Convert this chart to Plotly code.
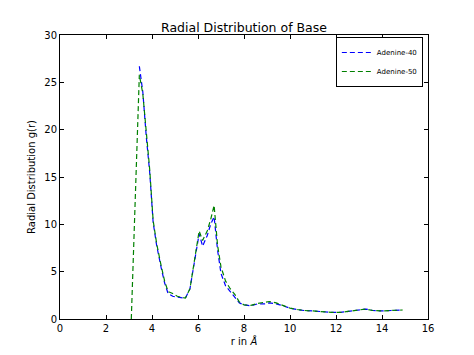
import plotly.graph_objects as go

# Adenine-40 (blue)
r40 = [3.45, 3.6, 3.75, 3.9, 4.05, 4.2, 4.4, 4.55, 4.7, 4.9, 5.1, 5.3, 5.45, 5.65, 5.85,
       6.05, 6.2, 6.4, 6.55, 6.7, 6.85, 7.0, 7.2, 7.4, 7.6, 7.8, 8.0, 8.3, 8.6, 8.9, 9.1,
       9.4, 9.7, 10.0, 10.3, 10.6, 11.0, 11.4, 11.8, 12.2, 12.6, 13.0, 13.3, 13.6, 14.0,
       14.4, 14.9]
g40 = [26.7, 24.0, 19.3, 15.5, 10.2, 7.8, 5.4, 3.8, 2.7, 2.4, 2.3, 2.2, 2.2, 3.2, 6.2,
       9.0, 7.7, 8.8, 10.0, 10.8, 7.3, 4.8, 3.5, 2.9, 2.3, 1.7, 1.5, 1.4, 1.6, 1.6, 1.7,
       1.6, 1.4, 1.15, 1.0, 0.9, 0.85, 0.75, 0.7, 0.7, 0.8, 0.95, 1.05, 0.9, 0.85,
       0.9, 0.95]

# Adenine-50 (green)
r50 = [3.1, 3.45, 3.6, 3.75, 3.9, 4.05, 4.2, 4.4, 4.55, 4.7, 4.9, 5.1, 5.3, 5.45, 5.65, 5.85,
       6.05, 6.2, 6.4, 6.55, 6.7, 6.85, 7.0, 7.2, 7.4, 7.6, 7.8, 8.0, 8.3, 8.6, 8.9, 9.1,
       9.4, 9.7, 10.0, 10.3, 10.6, 11.0, 11.4, 11.8, 12.2, 12.6, 13.0, 13.3, 13.6, 14.0,
       14.4, 14.9]
g50 = [0.0, 25.8, 23.8, 19.5, 15.8, 10.4, 8.0, 5.6, 4.0, 2.9, 2.7, 2.4, 2.3, 2.2, 3.2, 6.4,
       9.3, 8.3, 9.3, 10.5, 12.0, 7.8, 5.5, 4.0, 3.2, 2.6, 1.8, 1.5, 1.45, 1.65, 1.8, 1.85,
       1.7, 1.45, 1.15, 1.0, 0.9, 0.85, 0.75, 0.7, 0.7, 0.8, 0.95, 1.05, 0.9, 0.85,
       0.9, 0.95]

x_ticks = [0, 2, 4, 6, 8, 10, 12, 14, 16]
y_ticks = [0, 5, 10, 15, 20, 25, 30]

font = "DejaVu Sans, sans-serif"

fig = go.Figure()
fig.add_trace(go.Scatter(x=r40, y=g40, mode="lines", name="Adenine-40",
                         line=dict(color="#0000ff", width=1.2, dash="5px,3px")))
fig.add_trace(go.Scatter(x=r50, y=g50, mode="lines", name="Adenine-50",
                         line=dict(color="#008000", width=1.2, dash="5px,3px")))

axis_common = dict(showline=True, linecolor="black", linewidth=1, mirror="ticks",
                   ticks="inside", ticklen=4, tickcolor="black", showgrid=False,
                   zeroline=False, automargin=False,
                   tickfont=dict(family=font, size=10, color="black"))

fig.update_layout(
    width=474, height=355,
    margin=dict(l=60, r=46, t=35, b=36),
    paper_bgcolor="white", plot_bgcolor="white",
    title=dict(text="Radial Distribution of Base", x=0.5, xref="paper", xanchor="center",
               y=1 - 28 / 355, yref="container", yanchor="middle",
               font=dict(family=font, size=12.5, color="black")),
    xaxis=dict(range=[0, 16], tickvals=x_ticks, ticktext=[str(v) for v in x_ticks],
               title=dict(text="r in <i>Å</i>", standoff=4,
                          font=dict(family=font, size=10, color="black")),
               **axis_common),
    yaxis=dict(range=[0, 30], tickvals=y_ticks, ticktext=[str(v) for v in y_ticks],
               title=dict(text="Radial Distribution g(r)", standoff=6,
                          font=dict(family=font, size=10, color="black")),
               **axis_common),
    legend=dict(x=0.986, y=0.993, xanchor="right", yanchor="top",
                bgcolor="white", bordercolor="black", borderwidth=1,
                font=dict(family=font, size=7, color="black"),
                itemwidth=30, tracegroupgap=0),
    showlegend=True,
)

fig.write_html("out.html", config={"displayModeBar": False},
               post_script="document.body.style.margin='0px';")
